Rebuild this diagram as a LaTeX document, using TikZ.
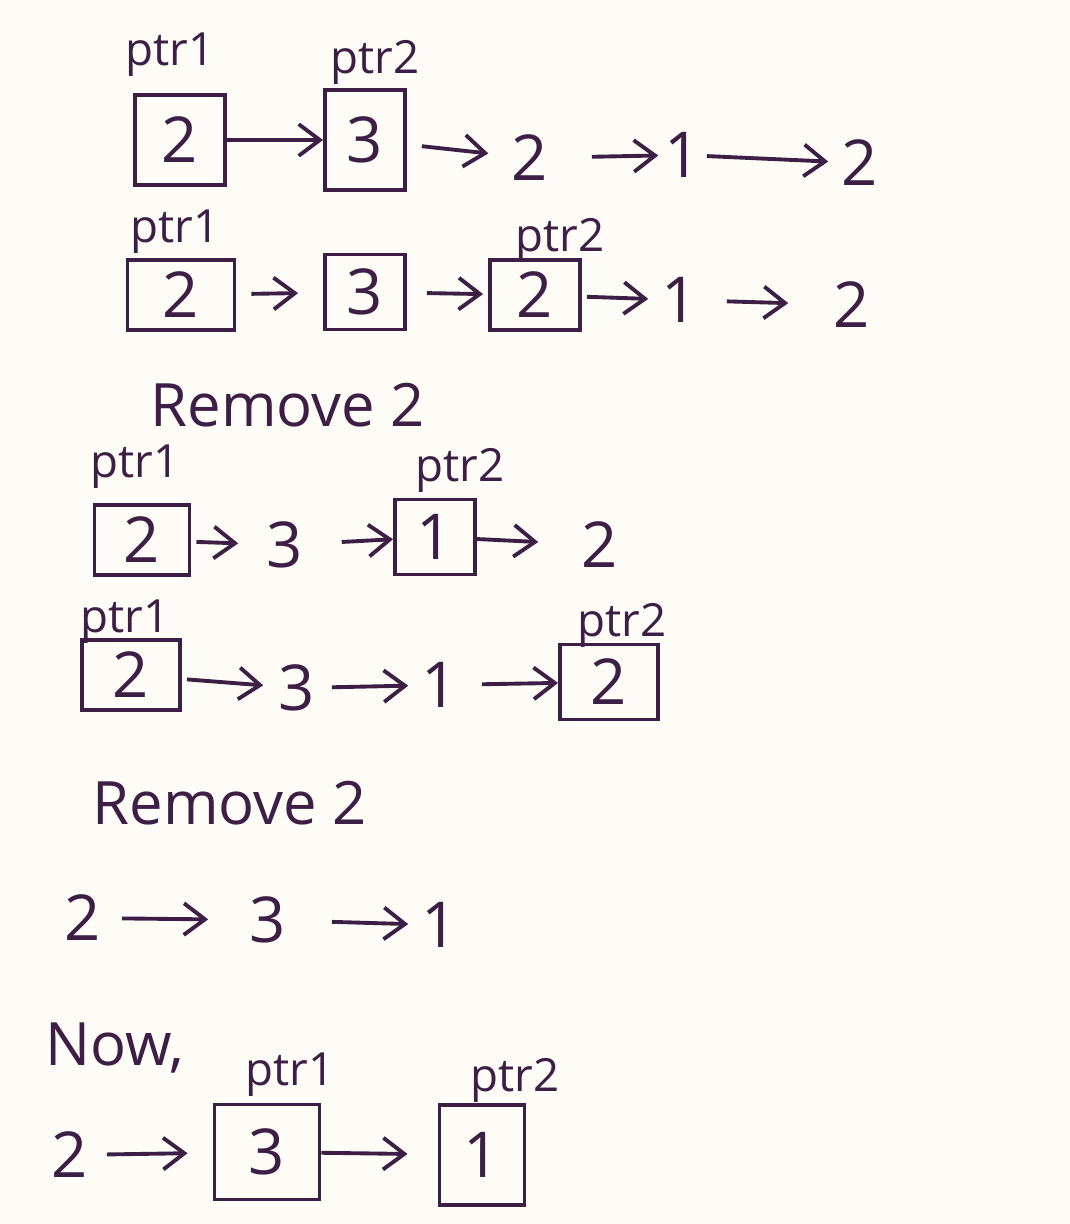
\documentclass[tikz,border=0pt]{standalone}
\usepackage{fontspec}
\setmainfont{Open Sans}
\usepackage{xcolor}
\definecolor{InkPurple}{HTML}{3D1F45}
\definecolor{PaperWhite}{HTML}{FDFCF7}
\usepackage{tikz}
\usetikzlibrary{arrows.meta,positioning}
\tikzset{>={Straight Barb[length=6pt,width=9pt]}}
\tikzstyle{linkarr}=[->,InkPurple,line width=1.1pt]

\begin{document}
\begin{tikzpicture}[x=0.01cm,y=-0.01cm,
		ptrbox/.style={draw=InkPurple,line width=1.1pt,text=InkPurple,inner sep=0,font=\fontsize{18}{20}\selectfont},
		valnode/.style={text=InkPurple,inner sep=0,font=\fontsize{18}{20}\selectfont},
		ptrlabel/.style={text=InkPurple,inner sep=0,font=\fontsize{13}{15}\selectfont},
		steptext/.style={text=InkPurple,inner sep=0,anchor=west,font=\fontsize{17}{19}\selectfont}]
		
		\fill[PaperWhite] (0,0) rectangle (1070,1224);
		\useasboundingbox (0,0) rectangle (1070,1224);
		
		%% ROW ONE
		\node[ptrbox,minimum width=0.9cm,minimum height=0.9cm] (r1a) at (180,140) {2};
		\node[ptrbox,minimum width=0.8cm,minimum height=1.0cm] (r1b) at (365,140) {3};
		\node[valnode] (r1c) at (530,158) {2};
		\node[valnode] (r1d) at (683,155) {1};
		\node[valnode] (r1e) at (860,163) {2};
		\node[ptrlabel] (r1p1) at (170,55) {ptr1};
		\node[ptrlabel] (r1p2) at (375,62) {ptr2};
		
		\draw[linkarr] (r1a) -- (r1b);
		\draw[linkarr,shorten <=0.15cm,shorten >=0.23cm] (r1b) -- (r1c);
		\draw[linkarr,shorten <=0.43cm,shorten >=0.06cm] (r1c) -- (r1d);
		\draw[linkarr,shorten <=0.05cm,shorten >=0.13cm] (r1d) -- (r1e);
		
		%% ROW TWO
		\node[ptrbox,minimum width=1.07cm,minimum height=0.7cm] (r2a) at (181,295) {2};
		\node[ptrbox,minimum width=0.8cm,minimum height=0.75cm] (r2b) at (365,292) {3};
		\node[ptrbox,minimum width=0.9cm,minimum height=0.7cm] (r2c) at (535,295) {2};
		\node[valnode] (r2d) at (680,300) {1};
		\node[valnode] (r2e) at (852,305) {2};
		\node[ptrlabel] (r2p1) at (175,232) {ptr1};
		\node[ptrlabel] (r2p2) at (560,240) {ptr2};
		
		\draw[linkarr,shorten <=0.15cm,shorten >=0.25cm] (r2a) -- (r2b);
		\draw[linkarr,shorten <=0.2cm,shorten >=0.05cm] (r2b) -- (r2c);
		\draw[linkarr,shorten <=0.05cm,shorten >=0.13cm] (r2c) -- (r2d);
		\draw[linkarr,shorten <=0.28cm,shorten >=0.45cm] (r2d) -- (r2e);
		
		\node[steptext] (rm1) at (150,405) {Remove 2};
		
		%% ROW THREE
		\node[ptrbox,minimum width=0.95cm,minimum height=0.7cm] (r3a) at (142,540) {2};
		\node[valnode] (r3b) at (285,545) {3};
		\node[ptrbox,minimum width=0.8cm,minimum height=0.75cm] (r3c) at (435,537) {1};
		\node[valnode] (r3d) at (600,545) {2};
		\node[ptrlabel] (r3p1) at (135,467) {ptr1};
		\node[ptrlabel] (r3p2) at (460,470) {ptr2};
		
		\draw[linkarr,shorten <=0.05cm,shorten >=0.28cm] (r3a) -- (r3b);
		\draw[linkarr,shorten <=0.38cm] (r3b) -- (r3c);
		\draw[linkarr,shorten >=0.43cm] (r3c) -- (r3d);
		
		%% ROW FOUR
		\node[ptrbox,minimum width=0.98cm,minimum height=0.7cm] (r4a) at (131,675) {2};
		\node[valnode] (r4b) at (297,688) {3};
		\node[valnode] (r4c) at (440,685) {1};
		\node[ptrbox,minimum width=0.98cm,minimum height=0.75cm] (r4d) at (609,682) {2};
		\node[ptrlabel] (r4p1) at (125,622) {ptr1};
		\node[ptrlabel] (r4p2) at (622,625) {ptr2};
		
		\draw[linkarr,shorten <=0.05cm,shorten >=0.15cm] (r4a) -- (r4b);
		\draw[linkarr,shorten <=0.16cm,shorten >=0.13cm] (r4b) -- (r4c);
		\draw[linkarr,shorten <=0.23cm] (r4c) -- (r4d);
		
		\node[steptext] (rm2) at (92,803) {Remove 2};
		
		%% ROW FIVE
		\node[valnode] (r5a) at (83,918) {2};
		\node[valnode] (r5b) at (268,920) {3};
		\node[valnode] (r5c) at (440,925) {1};
		
		\draw[linkarr,shorten <=0.2cm,shorten >=0.41cm] (r5a) -- (r5b);
		\draw[linkarr,shorten <=0.45cm,shorten >=0.13cm] (r5b) -- (r5c);
		
		%% NOW
		\node[steptext] (now) at (45,1048) {Now,};
		
		\node[valnode] (r6a) at (70,1155) {2};
		\node[ptrbox,minimum width=1.05cm,minimum height=0.95cm] (r6b) at (267,1152) {3};
		\node[ptrbox,minimum width=0.85cm,minimum height=1.0cm] (r6c) at (482,1155) {1};
		\node[ptrlabel] (r6p1) at (290,1075) {ptr1};
		\node[ptrlabel] (r6p2) at (515,1080) {ptr2};
		
		\draw[linkarr,shorten <=0.18cm,shorten >=0.25cm] (r6a) -- (r6b);
		\draw[linkarr,shorten >=0.3cm] (r6b) -- (r6c);
		
	\end{tikzpicture}
\end{document}
